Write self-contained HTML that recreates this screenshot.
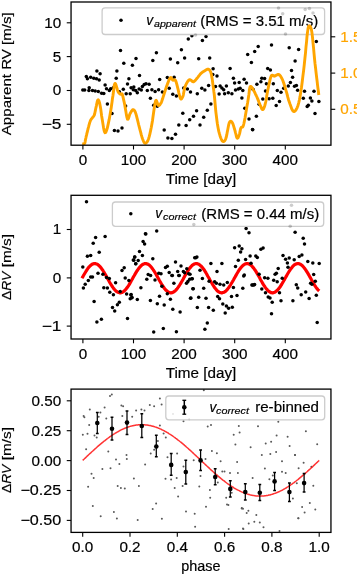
<!DOCTYPE html><html><head><meta charset="utf-8"><style>html,body{margin:0;padding:0;background:#fff;overflow:hidden}svg{display:block;will-change:transform}</style></head><body><svg width="357" height="575" viewBox="0 0 357 575" font-family='"Liberation Sans", sans-serif'>
<rect width="357" height="575" fill="#fff"/>
<clipPath id="c1"><rect x="71.05" y="2.0" width="259.9" height="143.2"/></clipPath>
<g clip-path="url(#c1)">
<g fill="#000"><circle cx="120.5" cy="50.6" r="1.75"/><circle cx="123.8" cy="63.3" r="1.75"/><circle cx="132.4" cy="65.2" r="1.75"/><circle cx="136.0" cy="58.6" r="1.75"/><circle cx="116.9" cy="71.0" r="1.75"/><circle cx="96.9" cy="71.0" r="1.75"/><circle cx="100.1" cy="73.7" r="1.75"/><circle cx="86.3" cy="76.4" r="1.75"/><circle cx="87.4" cy="78.7" r="1.75"/><circle cx="90.7" cy="77.3" r="1.75"/><circle cx="93.8" cy="78.2" r="1.75"/><circle cx="96.5" cy="78.7" r="1.75"/><circle cx="99.2" cy="79.9" r="1.75"/><circle cx="116.2" cy="78.2" r="1.75"/><circle cx="128.9" cy="78.8" r="1.75"/><circle cx="127.5" cy="84.1" r="1.75"/><circle cx="105.1" cy="85.0" r="1.75"/><circle cx="82.8" cy="90.0" r="1.75"/><circle cx="84.7" cy="90.0" r="1.75"/><circle cx="89.2" cy="87.8" r="1.75"/><circle cx="88.9" cy="90.5" r="1.75"/><circle cx="92.5" cy="90.5" r="1.75"/><circle cx="95.2" cy="91.0" r="1.75"/><circle cx="98.3" cy="91.4" r="1.75"/><circle cx="101.6" cy="93.2" r="1.75"/><circle cx="103.8" cy="93.6" r="1.75"/><circle cx="106.5" cy="88.7" r="1.75"/><circle cx="109.3" cy="90.5" r="1.75"/><circle cx="110.7" cy="88.7" r="1.75"/><circle cx="113.3" cy="87.8" r="1.75"/><circle cx="119.3" cy="91.8" r="1.75"/><circle cx="123.3" cy="89.2" r="1.75"/><circle cx="126.2" cy="93.8" r="1.75"/><circle cx="130.2" cy="93.8" r="1.75"/><circle cx="131.1" cy="87.8" r="1.75"/><circle cx="133.8" cy="86.9" r="1.75"/><circle cx="135.7" cy="90.5" r="1.75"/><circle cx="107.4" cy="104.1" r="1.75"/><circle cx="112.0" cy="113.5" r="1.75"/><circle cx="125.6" cy="106.0" r="1.75"/><circle cx="114.4" cy="130.4" r="1.75"/><circle cx="118.0" cy="131.0" r="1.75"/><circle cx="122.0" cy="127.9" r="1.75"/><circle cx="188.3" cy="39.1" r="1.75"/><circle cx="191.9" cy="35.8" r="1.75"/><circle cx="181.4" cy="49.7" r="1.75"/><circle cx="156.4" cy="52.8" r="1.75"/><circle cx="152.8" cy="60.6" r="1.75"/><circle cx="170.4" cy="59.1" r="1.75"/><circle cx="177.7" cy="62.8" r="1.75"/><circle cx="184.6" cy="57.9" r="1.75"/><circle cx="139.5" cy="75.5" r="1.75"/><circle cx="159.7" cy="79.6" r="1.75"/><circle cx="167.3" cy="77.4" r="1.75"/><circle cx="174.1" cy="77.2" r="1.75"/><circle cx="133.3" cy="89.7" r="1.75"/><circle cx="137.3" cy="92.8" r="1.75"/><circle cx="139.1" cy="89.1" r="1.75"/><circle cx="141.3" cy="90.0" r="1.75"/><circle cx="142.4" cy="86.4" r="1.75"/><circle cx="144.2" cy="84.6" r="1.75"/><circle cx="146.0" cy="83.7" r="1.75"/><circle cx="149.1" cy="84.2" r="1.75"/><circle cx="147.3" cy="90.4" r="1.75"/><circle cx="151.9" cy="89.7" r="1.75"/><circle cx="155.1" cy="91.5" r="1.75"/><circle cx="158.6" cy="89.7" r="1.75"/><circle cx="162.4" cy="91.9" r="1.75"/><circle cx="150.4" cy="98.2" r="1.75"/><circle cx="169.2" cy="88.2" r="1.75"/><circle cx="172.8" cy="94.2" r="1.75"/><circle cx="176.4" cy="96.0" r="1.75"/><circle cx="183.7" cy="87.9" r="1.75"/><circle cx="187.4" cy="89.1" r="1.75"/><circle cx="190.5" cy="91.9" r="1.75"/><circle cx="153.7" cy="105.3" r="1.75"/><circle cx="157.3" cy="106.2" r="1.75"/><circle cx="182.8" cy="113.2" r="1.75"/><circle cx="189.7" cy="119.7" r="1.75"/><circle cx="193.5" cy="116.2" r="1.75"/><circle cx="178.8" cy="125.0" r="1.75"/><circle cx="186.1" cy="125.5" r="1.75"/><circle cx="164.2" cy="130.0" r="1.75"/><circle cx="167.9" cy="137.9" r="1.75"/><circle cx="171.9" cy="138.6" r="1.75"/><circle cx="175.5" cy="134.2" r="1.75"/><circle cx="206.0" cy="36.4" r="1.75"/><circle cx="202.4" cy="40.6" r="1.75"/><circle cx="198.7" cy="58.8" r="1.75"/><circle cx="209.7" cy="57.9" r="1.75"/><circle cx="213.1" cy="68.8" r="1.75"/><circle cx="212.8" cy="74.6" r="1.75"/><circle cx="217.0" cy="75.9" r="1.75"/><circle cx="230.1" cy="68.6" r="1.75"/><circle cx="233.4" cy="78.3" r="1.75"/><circle cx="244.1" cy="79.2" r="1.75"/><circle cx="247.7" cy="54.6" r="1.75"/><circle cx="251.4" cy="62.4" r="1.75"/><circle cx="254.7" cy="51.5" r="1.75"/><circle cx="234.6" cy="83.1" r="1.75"/><circle cx="239.2" cy="82.4" r="1.75"/><circle cx="246.5" cy="83.1" r="1.75"/><circle cx="197.3" cy="93.7" r="1.75"/><circle cx="201.8" cy="88.2" r="1.75"/><circle cx="204.9" cy="90.0" r="1.75"/><circle cx="208.6" cy="85.5" r="1.75"/><circle cx="215.5" cy="86.4" r="1.75"/><circle cx="220.1" cy="86.0" r="1.75"/><circle cx="221.9" cy="87.9" r="1.75"/><circle cx="226.4" cy="86.0" r="1.75"/><circle cx="223.7" cy="89.7" r="1.75"/><circle cx="219.1" cy="94.0" r="1.75"/><circle cx="224.6" cy="93.7" r="1.75"/><circle cx="228.3" cy="92.8" r="1.75"/><circle cx="231.9" cy="93.7" r="1.75"/><circle cx="235.5" cy="90.0" r="1.75"/><circle cx="238.3" cy="89.1" r="1.75"/><circle cx="240.1" cy="88.2" r="1.75"/><circle cx="242.8" cy="90.6" r="1.75"/><circle cx="241.9" cy="97.9" r="1.75"/><circle cx="210.9" cy="104.1" r="1.75"/><circle cx="207.3" cy="110.3" r="1.75"/><circle cx="196.6" cy="110.8" r="1.75"/><circle cx="203.7" cy="117.2" r="1.75"/><circle cx="200.0" cy="125.0" r="1.75"/><circle cx="244.8" cy="108.3" r="1.75"/><circle cx="249.0" cy="118.9" r="1.75"/><circle cx="252.5" cy="129.5" r="1.75"/><circle cx="253.0" cy="89.3" r="1.75"/><circle cx="258.2" cy="46.4" r="1.75"/><circle cx="271.5" cy="44.9" r="1.75"/><circle cx="289.2" cy="47.7" r="1.75"/><circle cx="298.6" cy="49.6" r="1.75"/><circle cx="267.7" cy="68.6" r="1.75"/><circle cx="270.4" cy="70.1" r="1.75"/><circle cx="295.1" cy="61.1" r="1.75"/><circle cx="291.5" cy="70.4" r="1.75"/><circle cx="292.6" cy="77.2" r="1.75"/><circle cx="261.8" cy="78.3" r="1.75"/><circle cx="264.6" cy="78.6" r="1.75"/><circle cx="256.9" cy="84.2" r="1.75"/><circle cx="260.9" cy="81.8" r="1.75"/><circle cx="266.4" cy="83.7" r="1.75"/><circle cx="273.3" cy="83.7" r="1.75"/><circle cx="290.4" cy="82.4" r="1.75"/><circle cx="265.5" cy="90.9" r="1.75"/><circle cx="277.3" cy="90.4" r="1.75"/><circle cx="281.0" cy="92.2" r="1.75"/><circle cx="283.7" cy="88.2" r="1.75"/><circle cx="288.3" cy="86.0" r="1.75"/><circle cx="294.5" cy="86.3" r="1.75"/><circle cx="296.4" cy="85.5" r="1.75"/><circle cx="297.6" cy="90.3" r="1.75"/><circle cx="304.5" cy="91.2" r="1.75"/><circle cx="314.0" cy="91.2" r="1.75"/><circle cx="262.8" cy="99.1" r="1.75"/><circle cx="269.1" cy="98.8" r="1.75"/><circle cx="272.8" cy="98.2" r="1.75"/><circle cx="259.1" cy="104.2" r="1.75"/><circle cx="279.5" cy="101.4" r="1.75"/><circle cx="276.2" cy="105.5" r="1.75"/><circle cx="303.3" cy="98.3" r="1.75"/><circle cx="310.4" cy="98.1" r="1.75"/><circle cx="311.9" cy="101.1" r="1.75"/><circle cx="318.9" cy="101.4" r="1.75"/><circle cx="307.2" cy="106.6" r="1.75"/><circle cx="308.3" cy="105.2" r="1.75"/><circle cx="315.0" cy="113.6" r="1.75"/><circle cx="256.4" cy="116.2" r="1.75"/><circle cx="252.7" cy="129.7" r="1.75"/><circle cx="316.3" cy="41.4" r="1.75"/></g>
</g>
<rect x="102.1" y="7.9" width="222.5" height="26.6" rx="3" fill="#fff" fill-opacity="0.8" stroke="#cccccc" stroke-width="1.3"/>
<g fill="#000" fill-opacity="0.2"><circle cx="195.5" cy="35.1" r="1.75"/><circle cx="278.5" cy="8.0" r="1.75"/><circle cx="282.7" cy="13.7" r="1.75"/><circle cx="275.8" cy="24.2" r="1.75"/><circle cx="305.2" cy="9.5" r="1.75"/><circle cx="309.4" cy="8.4" r="1.75"/><circle cx="313.0" cy="13.0" r="1.75"/><circle cx="285.5" cy="34.0" r="1.75"/></g>
<circle cx="121" cy="20.3" r="1.75" fill="#000"/>
<text x="146.2" y="25.4" font-size="13.8" text-anchor="start" fill="#000" stroke="#000" stroke-width="0.18" font-style="italic">v</text>
<text x="154" y="27.4" font-size="9.8" text-anchor="start" fill="#000" stroke="#000" stroke-width="0.18" textLength="42" lengthAdjust="spacingAndGlyphs" font-style="italic">apparent</text>
<text x="200.2" y="25.6" font-size="13.8" text-anchor="start" fill="#000" stroke="#000" stroke-width="0.18" textLength="118" lengthAdjust="spacingAndGlyphs">(RMS = 3.51 m/s)</text>
<g clip-path="url(#c1)"><path d="M82.2,144.0 L82.5,144.0 L83.1,144.0 L83.6,143.9 L84.2,143.8 L84.6,143.4 L84.9,142.8 L85.1,142.0 L85.2,141.1 L85.4,140.1 L85.6,139.0 L85.9,137.8 L86.2,136.4 L86.6,134.9 L86.9,133.4 L87.3,132.0 L87.6,130.6 L88.0,129.2 L88.3,127.8 L88.7,126.4 L89.0,125.2 L89.3,124.1 L89.6,123.0 L89.9,122.1 L90.2,121.2 L90.5,120.4 L90.9,119.7 L91.3,119.1 L91.7,118.6 L92.1,118.1 L92.5,117.6 L92.9,117.1 L93.3,116.7 L93.7,116.2 L94.0,115.6 L94.4,114.8 L94.7,113.7 L95.0,112.3 L95.3,110.9 L95.6,109.3 L95.9,107.8 L96.3,106.1 L96.7,104.1 L97.1,102.2 L97.5,100.7 L97.9,99.9 L98.3,99.8 L98.7,100.3 L99.1,101.3 L99.5,102.7 L99.9,104.4 L100.3,106.6 L100.8,109.5 L101.2,112.6 L101.6,115.7 L102.1,118.7 L102.6,121.7 L103.1,124.9 L103.6,128.0 L104.1,130.5 L104.6,132.1 L105.1,132.7 L105.6,132.6 L106.0,131.9 L106.5,130.6 L107.1,128.8 L107.7,126.3 L108.4,123.1 L109.2,119.4 L109.9,115.6 L110.5,112.0 L111.1,108.6 L111.6,105.0 L112.1,101.6 L112.5,98.2 L113.0,95.2 L113.4,92.2 L113.8,89.2 L114.1,86.4 L114.5,84.4 L115.0,83.4 L115.6,83.9 L116.2,85.6 L116.9,87.9 L117.5,90.2 L118.1,91.8 L118.7,92.7 L119.2,93.3 L119.7,93.8 L120.2,94.1 L120.6,94.3 L121.0,94.3 L121.3,94.0 L121.6,93.6 L121.9,93.6 L122.3,94.3 L122.7,95.7 L123.2,97.8 L123.7,100.2 L124.3,102.7 L124.8,105.3 L125.3,108.2 L125.9,111.6 L126.4,114.9 L127.0,117.6 L127.5,119.2 L128.0,119.3 L128.5,118.4 L129.0,116.8 L129.5,115.1 L130.0,113.8 L130.6,112.7 L131.2,111.6 L131.9,110.6 L132.5,109.9 L133.1,109.6 L133.7,109.8 L134.2,110.2 L134.8,111.1 L135.3,112.2 L135.9,113.8 L136.5,115.9 L137.2,118.6 L137.9,121.5 L138.6,124.5 L139.3,127.2 L140.0,129.8 L140.7,132.4 L141.3,134.9 L142.0,137.2 L142.6,139.0 L143.2,140.5 L143.7,141.6 L144.1,142.5 L144.6,143.0 L145.2,143.2 L145.8,143.1 L146.5,142.6 L147.1,141.9 L147.8,140.7 L148.5,139.0 L149.2,136.7 L149.9,133.8 L150.6,130.6 L151.3,127.2 L151.9,123.9 L152.5,120.5 L153.0,116.8 L153.5,113.2 L154.0,109.8 L154.4,107.1 L154.8,104.9 L155.1,103.1 L155.4,101.7 L155.7,100.7 L156.1,100.3 L156.5,100.7 L156.9,101.8 L157.4,103.3 L157.8,104.7 L158.3,105.4 L158.8,105.5 L159.4,105.2 L160.0,104.6 L160.5,103.8 L161.1,102.9 L161.6,101.7 L162.1,100.3 L162.6,98.8 L163.1,97.1 L163.7,95.3 L164.3,93.4 L165.0,91.3 L165.6,89.2 L166.3,87.1 L167.0,85.2 L167.7,83.4 L168.4,81.5 L169.1,79.8 L169.8,78.4 L170.4,77.6 L171.0,77.5 L171.5,78.0 L171.9,78.9 L172.4,79.7 L172.9,80.2 L173.4,80.2 L173.9,80.0 L174.4,79.7 L174.9,79.7 L175.4,80.2 L175.9,81.3 L176.4,82.9 L176.9,84.7 L177.4,86.7 L177.9,88.6 L178.4,90.7 L178.9,93.1 L179.5,95.5 L180.0,97.5 L180.5,98.7 L181.0,99.1 L181.5,98.9 L182.0,98.2 L182.5,97.2 L183.0,96.1 L183.4,94.6 L183.7,92.8 L184.1,90.7 L184.5,88.7 L185.0,86.9 L185.7,85.2 L186.5,83.5 L187.4,81.9 L188.3,80.6 L189.2,79.8 L190.1,79.7 L190.9,80.2 L191.8,80.9 L192.6,81.6 L193.4,81.8 L194.1,81.5 L194.8,80.9 L195.4,80.2 L196.1,79.4 L196.8,78.5 L197.6,77.6 L198.4,76.5 L199.3,75.4 L200.1,74.3 L201.0,73.4 L201.9,72.6 L202.7,72.0 L203.6,71.4 L204.4,70.9 L205.2,70.4 L205.9,70.0 L206.7,69.5 L207.3,69.2 L208.0,69.1 L208.6,69.2 L209.2,69.6 L209.7,70.2 L210.2,71.0 L210.7,72.1 L211.1,73.4 L211.5,75.0 L211.8,76.9 L212.2,78.9 L212.5,81.2 L212.8,83.5 L213.1,85.9 L213.5,88.5 L213.8,91.2 L214.2,94.0 L214.5,97.0 L214.8,100.2 L215.1,103.6 L215.4,107.0 L215.7,110.5 L216.1,113.8 L216.5,117.0 L216.9,120.2 L217.3,123.3 L217.8,126.2 L218.3,128.9 L218.8,131.4 L219.4,133.7 L220.0,135.7 L220.6,137.5 L221.2,139.0 L221.7,140.1 L222.2,140.9 L222.7,141.3 L223.2,141.6 L223.7,141.5 L224.2,141.2 L224.7,140.7 L225.2,139.9 L225.7,138.8 L226.2,137.3 L226.7,135.2 L227.2,132.4 L227.8,129.5 L228.3,126.8 L228.7,124.7 L229.1,123.3 L229.4,122.4 L229.7,121.9 L230.0,121.5 L230.4,121.3 L230.8,121.2 L231.2,121.3 L231.6,121.7 L232.0,122.2 L232.5,123.0 L233.0,124.1 L233.5,125.6 L234.0,127.3 L234.5,129.0 L235.0,130.6 L235.4,132.3 L235.9,134.2 L236.3,136.0 L236.7,137.4 L237.1,138.2 L237.5,138.3 L238.0,137.8 L238.4,136.9 L238.8,135.9 L239.2,134.8 L239.6,133.6 L239.9,132.1 L240.2,130.6 L240.5,129.1 L240.9,128.0 L241.3,127.4 L241.8,127.2 L242.4,127.1 L242.9,126.6 L243.4,125.5 L243.9,123.5 L244.4,121.0 L245.0,118.1 L245.5,115.1 L246.0,112.1 L246.5,109.1 L247.0,106.0 L247.6,102.8 L248.1,99.7 L248.5,97.0 L248.9,94.4 L249.2,91.8 L249.4,89.5 L249.8,87.7 L250.2,86.6 L250.8,86.4 L251.4,86.9 L252.1,87.9 L252.8,89.1 L253.5,90.3 L254.2,91.4 L254.9,92.7 L255.5,94.1 L256.2,95.5 L256.9,97.0 L257.6,98.6 L258.3,100.4 L259.0,102.3 L259.7,104.0 L260.3,105.4 L260.9,106.7 L261.4,107.9 L261.8,108.8 L262.3,109.5 L262.8,109.6 L263.3,109.2 L263.8,108.3 L264.3,107.1 L264.8,105.5 L265.3,103.7 L265.8,101.5 L266.3,98.9 L266.7,96.1 L267.2,93.2 L267.8,90.3 L268.4,87.3 L269.1,83.9 L269.8,80.7 L270.5,77.9 L271.2,76.0 L271.9,75.1 L272.5,75.1 L273.1,75.6 L273.8,76.0 L274.5,76.2 L275.3,75.9 L276.2,75.3 L277.1,74.8 L278.0,74.5 L278.8,74.5 L279.6,75.0 L280.3,75.7 L280.9,76.7 L281.6,77.9 L282.3,79.3 L283.0,81.0 L283.7,83.0 L284.4,85.2 L285.1,87.5 L285.8,89.8 L286.5,92.2 L287.2,94.7 L287.8,97.2 L288.5,99.7 L289.3,102.0 L290.1,104.3 L291.0,106.7 L291.8,109.0 L292.7,110.6 L293.6,111.5 L294.5,111.5 L295.4,110.7 L296.3,109.4 L297.2,107.6 L298.0,105.4 L298.7,102.8 L299.4,99.8 L300.1,96.4 L300.7,92.4 L301.4,88.0 L302.1,82.8 L302.8,76.9 L303.6,70.6 L304.3,64.4 L304.9,58.5 L305.5,52.8 L306.0,46.9 L306.6,41.3 L307.0,36.3 L307.5,32.4 L307.9,29.6 L308.2,27.7 L308.6,26.6 L308.9,26.0 L309.3,25.8 L309.8,26.0 L310.3,26.6 L310.8,27.7 L311.4,29.6 L311.9,32.4 L312.4,36.4 L312.9,41.6 L313.5,47.4 L314.0,53.2 L314.5,58.5 L315.0,63.4 L315.6,68.2 L316.1,72.8 L316.6,77.1 L317.1,81.0 L317.5,84.6 L317.9,87.9 L318.3,90.8 L318.6,93.2 L318.8,95.0" fill="none" stroke="#ffa500" stroke-width="2.9" stroke-linejoin="round" stroke-linecap="butt"/></g>
<rect x="71.05" y="2.0" width="259.9" height="143.2" fill="none" stroke="#000" stroke-width="1.3"/>
<line x1="66.75" y1="22.8" x2="71.05" y2="22.8" stroke="#000" stroke-width="1.1"/>
<text x="61.3" y="27.700000000000003" font-size="13.8" text-anchor="end" fill="#000" stroke="#000" stroke-width="0.18" textLength="16.96" lengthAdjust="spacingAndGlyphs">10</text>
<line x1="66.75" y1="56.6" x2="71.05" y2="56.6" stroke="#000" stroke-width="1.1"/>
<text x="61.3" y="61.5" font-size="13.8" text-anchor="end" fill="#000" stroke="#000" stroke-width="0.18" textLength="8.48" lengthAdjust="spacingAndGlyphs">5</text>
<line x1="66.75" y1="90.5" x2="71.05" y2="90.5" stroke="#000" stroke-width="1.1"/>
<text x="61.3" y="95.4" font-size="13.8" text-anchor="end" fill="#000" stroke="#000" stroke-width="0.18" textLength="8.48" lengthAdjust="spacingAndGlyphs">0</text>
<line x1="66.75" y1="124.3" x2="71.05" y2="124.3" stroke="#000" stroke-width="1.1"/>
<text x="61.3" y="129.2" font-size="13.8" text-anchor="end" fill="#000" stroke="#000" stroke-width="0.18" textLength="19.65" lengthAdjust="spacingAndGlyphs">−5</text>
<line x1="330.95" y1="36.8" x2="335.25" y2="36.8" stroke="#000" stroke-width="1.1"/>
<text x="340.2" y="41.699999999999996" font-size="13.8" text-anchor="start" fill="#ffa500" stroke="#ffa500" stroke-width="0.18" textLength="21.19" lengthAdjust="spacingAndGlyphs">1.5</text>
<line x1="330.95" y1="73.1" x2="335.25" y2="73.1" stroke="#000" stroke-width="1.1"/>
<text x="340.2" y="78.0" font-size="13.8" text-anchor="start" fill="#ffa500" stroke="#ffa500" stroke-width="0.18" textLength="21.19" lengthAdjust="spacingAndGlyphs">1.0</text>
<line x1="330.95" y1="109.3" x2="335.25" y2="109.3" stroke="#000" stroke-width="1.1"/>
<text x="340.2" y="114.2" font-size="13.8" text-anchor="start" fill="#ffa500" stroke="#ffa500" stroke-width="0.18" textLength="21.19" lengthAdjust="spacingAndGlyphs">0.5</text>
<line x1="82.9" y1="145.2" x2="82.9" y2="149.5" stroke="#000" stroke-width="1.1"/>
<text x="82.9" y="165.0" font-size="13.8" text-anchor="middle" fill="#000" stroke="#000" stroke-width="0.18" textLength="8.48" lengthAdjust="spacingAndGlyphs">0</text>
<line x1="133.5" y1="145.2" x2="133.5" y2="149.5" stroke="#000" stroke-width="1.1"/>
<text x="133.5" y="165.0" font-size="13.8" text-anchor="middle" fill="#000" stroke="#000" stroke-width="0.18" textLength="25.43" lengthAdjust="spacingAndGlyphs">100</text>
<line x1="184.1" y1="145.2" x2="184.1" y2="149.5" stroke="#000" stroke-width="1.1"/>
<text x="184.1" y="165.0" font-size="13.8" text-anchor="middle" fill="#000" stroke="#000" stroke-width="0.18" textLength="25.43" lengthAdjust="spacingAndGlyphs">200</text>
<line x1="234.7" y1="145.2" x2="234.7" y2="149.5" stroke="#000" stroke-width="1.1"/>
<text x="234.7" y="165.0" font-size="13.8" text-anchor="middle" fill="#000" stroke="#000" stroke-width="0.18" textLength="25.43" lengthAdjust="spacingAndGlyphs">300</text>
<line x1="285.3" y1="145.2" x2="285.3" y2="149.5" stroke="#000" stroke-width="1.1"/>
<text x="285.3" y="165.0" font-size="13.8" text-anchor="middle" fill="#000" stroke="#000" stroke-width="0.18" textLength="25.43" lengthAdjust="spacingAndGlyphs">400</text>
<text x="201" y="183.5" font-size="13.8" text-anchor="middle" fill="#000" stroke="#000" stroke-width="0.18" textLength="70.5" lengthAdjust="spacingAndGlyphs">Time [day]</text>
<g transform="translate(11.2,73.7) rotate(-90)"><text x="0" y="0" font-size="13.3" text-anchor="middle" fill="#000" stroke="#000" stroke-width="0.18" textLength="123" lengthAdjust="spacingAndGlyphs">Apparent RV [m/s]</text></g>
<clipPath id="c2"><rect x="71.05" y="195.3" width="259.9" height="143.7"/></clipPath>
<g clip-path="url(#c2)">
<path d="M82.0,278.2 L82.6,277.1 L83.2,276.1 L83.8,275.0 L84.4,274.0 L85.0,273.0 L85.6,272.0 L86.2,271.0 L86.8,270.1 L87.4,269.2 L87.9,268.4 L88.5,267.6 L89.1,266.9 L89.7,266.3 L90.3,265.7 L90.9,265.2 L91.5,264.7 L92.1,264.3 L92.7,264.0 L93.3,263.8 L93.9,263.7 L94.5,263.6 L95.1,263.6 L95.7,263.7 L96.3,263.9 L96.9,264.1 L97.5,264.4 L98.1,264.8 L98.6,265.3 L99.2,265.8 L99.8,266.4 L100.4,267.1 L101.0,267.8 L101.6,268.6 L102.2,269.5 L102.8,270.3 L103.4,271.3 L104.0,272.2 L104.6,273.2 L105.2,274.2 L105.8,275.3 L106.4,276.4 L107.0,277.4 L107.6,278.5 L108.2,279.6 L108.8,280.6 L109.3,281.7 L109.9,282.7 L110.5,283.7 L111.1,284.7 L111.7,285.6 L112.3,286.5 L112.9,287.4 L113.5,288.2 L114.1,289.0 L114.7,289.7 L115.3,290.3 L115.9,290.9 L116.5,291.4 L117.1,291.8 L117.7,292.1 L118.3,292.4 L118.9,292.6 L119.5,292.8 L120.0,292.8 L120.6,292.8 L121.2,292.7 L121.8,292.5 L122.4,292.2 L123.0,291.9 L123.6,291.4 L124.2,291.0 L124.8,290.4 L125.4,289.8 L126.0,289.1 L126.6,288.3 L127.2,287.5 L127.8,286.7 L128.4,285.8 L129.0,284.9 L129.6,283.9 L130.2,282.9 L130.7,281.9 L131.3,280.8 L131.9,279.8 L132.5,278.7 L133.1,277.6 L133.7,276.5 L134.3,275.5 L134.9,274.4 L135.5,273.4 L136.1,272.4 L136.7,271.4 L137.3,270.5 L137.9,269.6 L138.5,268.8 L139.1,268.0 L139.7,267.2 L140.3,266.6 L140.9,265.9 L141.4,265.4 L142.0,264.9 L142.6,264.5 L143.2,264.2 L143.8,263.9 L144.4,263.7 L145.0,263.6 L145.6,263.6 L146.2,263.7 L146.8,263.8 L147.4,264.0 L148.0,264.3 L148.6,264.6 L149.2,265.1 L149.8,265.6 L150.4,266.2 L151.0,266.8 L151.6,267.5 L152.1,268.3 L152.7,269.1 L153.3,269.9 L153.9,270.8 L154.5,271.8 L155.1,272.8 L155.7,273.8 L156.3,274.8 L156.9,275.9 L157.5,276.9 L158.1,278.0 L158.7,279.1 L159.3,280.2 L159.9,281.2 L160.5,282.2 L161.1,283.3 L161.7,284.3 L162.3,285.2 L162.9,286.1 L163.4,287.0 L164.0,287.9 L164.6,288.6 L165.2,289.4 L165.8,290.0 L166.4,290.6 L167.0,291.1 L167.6,291.6 L168.2,292.0 L168.8,292.3 L169.4,292.5 L170.0,292.7 L170.6,292.8 L171.2,292.8 L171.8,292.7 L172.4,292.6 L173.0,292.3 L173.6,292.0 L174.1,291.6 L174.7,291.2 L175.3,290.7 L175.9,290.1 L176.5,289.4 L177.1,288.7 L177.7,287.9 L178.3,287.1 L178.9,286.2 L179.5,285.3 L180.1,284.3 L180.7,283.4 L181.3,282.3 L181.9,281.3 L182.5,280.2 L183.1,279.2 L183.7,278.1 L184.3,277.0 L184.8,276.0 L185.4,274.9 L186.0,273.9 L186.6,272.9 L187.2,271.9 L187.8,270.9 L188.4,270.0 L189.0,269.1 L189.6,268.3 L190.2,267.6 L190.8,266.9 L191.4,266.2 L192.0,265.6 L192.6,265.1 L193.2,264.7 L193.8,264.3 L194.4,264.0 L195.0,263.8 L195.5,263.7 L196.1,263.6 L196.7,263.6 L197.3,263.7 L197.9,263.9 L198.5,264.1 L199.1,264.5 L199.7,264.9 L200.3,265.4 L200.9,265.9 L201.5,266.5 L202.1,267.2 L202.7,267.9 L203.3,268.7 L203.9,269.5 L204.5,270.4 L205.1,271.4 L205.7,272.3 L206.2,273.3 L206.8,274.3 L207.4,275.4 L208.0,276.5 L208.6,277.5 L209.2,278.6 L209.8,279.7 L210.4,280.7 L211.0,281.8 L211.6,282.8 L212.2,283.8 L212.8,284.8 L213.4,285.7 L214.0,286.6 L214.6,287.5 L215.2,288.3 L215.8,289.0 L216.4,289.7 L216.9,290.4 L217.5,290.9 L218.1,291.4 L218.7,291.8 L219.3,292.2 L219.9,292.4 L220.5,292.6 L221.1,292.8 L221.7,292.8 L222.3,292.8 L222.9,292.6 L223.5,292.4 L224.1,292.2 L224.7,291.8 L225.3,291.4 L225.9,290.9 L226.5,290.3 L227.1,289.7 L227.6,289.0 L228.2,288.3 L228.8,287.5 L229.4,286.6 L230.0,285.7 L230.6,284.8 L231.2,283.8 L231.8,282.8 L232.4,281.8 L233.0,280.7 L233.6,279.7 L234.2,278.6 L234.8,277.5 L235.4,276.4 L236.0,275.4 L236.6,274.3 L237.2,273.3 L237.8,272.3 L238.3,271.3 L238.9,270.4 L239.5,269.5 L240.1,268.7 L240.7,267.9 L241.3,267.2 L241.9,266.5 L242.5,265.9 L243.1,265.3 L243.7,264.9 L244.3,264.5 L244.9,264.1 L245.5,263.9 L246.1,263.7 L246.7,263.6 L247.3,263.6 L247.9,263.7 L248.5,263.8 L249.1,264.0 L249.6,264.3 L250.2,264.7 L250.8,265.1 L251.4,265.6 L252.0,266.2 L252.6,266.9 L253.2,267.6 L253.8,268.3 L254.4,269.2 L255.0,270.0 L255.6,270.9 L256.2,271.9 L256.8,272.9 L257.4,273.9 L258.0,274.9 L258.6,276.0 L259.2,277.0 L259.8,278.1 L260.3,279.2 L260.9,280.3 L261.5,281.3 L262.1,282.3 L262.7,283.4 L263.3,284.4 L263.9,285.3 L264.5,286.2 L265.1,287.1 L265.7,287.9 L266.3,288.7 L266.9,289.4 L267.5,290.1 L268.1,290.7 L268.7,291.2 L269.3,291.6 L269.9,292.0 L270.5,292.3 L271.0,292.6 L271.6,292.7 L272.2,292.8 L272.8,292.8 L273.4,292.7 L274.0,292.5 L274.6,292.3 L275.2,292.0 L275.8,291.6 L276.4,291.1 L277.0,290.6 L277.6,290.0 L278.2,289.3 L278.8,288.6 L279.4,287.8 L280.0,287.0 L280.6,286.1 L281.2,285.2 L281.7,284.2 L282.3,283.3 L282.9,282.2 L283.5,281.2 L284.1,280.1 L284.7,279.1 L285.3,278.0 L285.9,276.9 L286.5,275.9 L287.1,274.8 L287.7,273.8 L288.3,272.8 L288.9,271.8 L289.5,270.8 L290.1,269.9 L290.7,269.1 L291.3,268.3 L291.9,267.5 L292.4,266.8 L293.0,266.2 L293.6,265.6 L294.2,265.1 L294.8,264.6 L295.4,264.3 L296.0,264.0 L296.6,263.8 L297.2,263.7 L297.8,263.6 L298.4,263.6 L299.0,263.7 L299.6,263.9 L300.2,264.2 L300.8,264.5 L301.4,264.9 L302.0,265.4 L302.6,266.0 L303.1,266.6 L303.7,267.3 L304.3,268.0 L304.9,268.8 L305.5,269.6 L306.1,270.5 L306.7,271.5 L307.3,272.4 L307.9,273.4 L308.5,274.4 L309.1,275.5 L309.7,276.6 L310.3,277.6 L310.9,278.7 L311.5,279.8 L312.1,280.8 L312.7,281.9 L313.3,282.9 L313.8,283.9 L314.4,284.9 L315.0,285.8 L315.6,286.7 L316.2,287.6 L316.8,288.4 L317.4,289.1 L318.0,289.8 L318.6,290.4 L319.2,291.0" fill="none" stroke="#ff0000" stroke-width="3.2" stroke-linejoin="round"/>
<g fill="#000"><circle cx="86.5" cy="201.7" r="1.75"/><circle cx="95.6" cy="237.4" r="1.75"/><circle cx="105.1" cy="236.5" r="1.75"/><circle cx="93.2" cy="243.2" r="1.75"/><circle cx="99.2" cy="252.3" r="1.75"/><circle cx="87.4" cy="256.3" r="1.75"/><circle cx="90.7" cy="255.4" r="1.75"/><circle cx="82.8" cy="266.9" r="1.75"/><circle cx="98.0" cy="273.3" r="1.75"/><circle cx="102.9" cy="274.2" r="1.75"/><circle cx="90.7" cy="276.9" r="1.75"/><circle cx="92.5" cy="276.9" r="1.75"/><circle cx="88.3" cy="280.6" r="1.75"/><circle cx="85.2" cy="284.3" r="1.75"/><circle cx="106.5" cy="277.5" r="1.75"/><circle cx="109.3" cy="278.5" r="1.75"/><circle cx="115.6" cy="282.7" r="1.75"/><circle cx="122.0" cy="270.5" r="1.75"/><circle cx="124.2" cy="267.8" r="1.75"/><circle cx="125.2" cy="278.0" r="1.75"/><circle cx="128.9" cy="280.6" r="1.75"/><circle cx="133.8" cy="260.2" r="1.75"/><circle cx="134.8" cy="256.9" r="1.75"/><circle cx="135.7" cy="263.8" r="1.75"/><circle cx="83.4" cy="288.1" r="1.75"/><circle cx="103.8" cy="287.8" r="1.75"/><circle cx="107.4" cy="288.1" r="1.75"/><circle cx="109.8" cy="292.3" r="1.75"/><circle cx="113.4" cy="294.7" r="1.75"/><circle cx="120.2" cy="291.4" r="1.75"/><circle cx="126.6" cy="294.1" r="1.75"/><circle cx="131.1" cy="294.5" r="1.75"/><circle cx="132.0" cy="297.4" r="1.75"/><circle cx="130.2" cy="298.7" r="1.75"/><circle cx="94.1" cy="301.4" r="1.75"/><circle cx="119.3" cy="302.3" r="1.75"/><circle cx="117.4" cy="304.7" r="1.75"/><circle cx="112.5" cy="307.4" r="1.75"/><circle cx="114.7" cy="310.9" r="1.75"/><circle cx="96.9" cy="322.0" r="1.75"/><circle cx="101.4" cy="319.3" r="1.75"/><circle cx="127.5" cy="318.4" r="1.75"/><circle cx="145.4" cy="233.7" r="1.75"/><circle cx="156.7" cy="230.9" r="1.75"/><circle cx="145.8" cy="234.1" r="1.75"/><circle cx="143.1" cy="241.4" r="1.75"/><circle cx="144.6" cy="244.1" r="1.75"/><circle cx="139.5" cy="251.4" r="1.75"/><circle cx="142.4" cy="255.6" r="1.75"/><circle cx="134.6" cy="256.9" r="1.75"/><circle cx="133.3" cy="260.0" r="1.75"/><circle cx="138.2" cy="260.5" r="1.75"/><circle cx="135.8" cy="263.8" r="1.75"/><circle cx="152.8" cy="258.7" r="1.75"/><circle cx="175.5" cy="262.0" r="1.75"/><circle cx="194.7" cy="257.8" r="1.75"/><circle cx="165.5" cy="267.4" r="1.75"/><circle cx="167.3" cy="266.3" r="1.75"/><circle cx="181.0" cy="266.0" r="1.75"/><circle cx="186.8" cy="268.7" r="1.75"/><circle cx="148.2" cy="274.5" r="1.75"/><circle cx="150.6" cy="275.6" r="1.75"/><circle cx="158.8" cy="273.3" r="1.75"/><circle cx="161.0" cy="273.8" r="1.75"/><circle cx="146.8" cy="279.2" r="1.75"/><circle cx="155.0" cy="280.0" r="1.75"/><circle cx="169.2" cy="272.4" r="1.75"/><circle cx="172.3" cy="275.6" r="1.75"/><circle cx="177.7" cy="271.4" r="1.75"/><circle cx="179.2" cy="275.5" r="1.75"/><circle cx="183.4" cy="271.4" r="1.75"/><circle cx="184.6" cy="272.7" r="1.75"/><circle cx="188.7" cy="273.8" r="1.75"/><circle cx="189.7" cy="279.3" r="1.75"/><circle cx="192.3" cy="278.7" r="1.75"/><circle cx="187.9" cy="281.6" r="1.75"/><circle cx="173.9" cy="283.2" r="1.75"/><circle cx="140.9" cy="287.8" r="1.75"/><circle cx="161.9" cy="286.3" r="1.75"/><circle cx="192.8" cy="288.7" r="1.75"/><circle cx="130.9" cy="295.0" r="1.75"/><circle cx="131.8" cy="297.8" r="1.75"/><circle cx="137.3" cy="299.6" r="1.75"/><circle cx="150.4" cy="300.5" r="1.75"/><circle cx="159.5" cy="296.3" r="1.75"/><circle cx="167.3" cy="293.8" r="1.75"/><circle cx="170.4" cy="299.2" r="1.75"/><circle cx="190.5" cy="298.3" r="1.75"/><circle cx="157.3" cy="303.8" r="1.75"/><circle cx="164.2" cy="305.0" r="1.75"/><circle cx="172.8" cy="309.2" r="1.75"/><circle cx="180.1" cy="312.0" r="1.75"/><circle cx="153.7" cy="332.0" r="1.75"/><circle cx="163.3" cy="328.4" r="1.75"/><circle cx="176.4" cy="331.8" r="1.75"/><circle cx="171.9" cy="275.5" r="1.75"/><circle cx="178.8" cy="275.5" r="1.75"/><circle cx="186.5" cy="283.2" r="1.75"/><circle cx="246.1" cy="228.6" r="1.75"/><circle cx="249.0" cy="232.7" r="1.75"/><circle cx="234.6" cy="247.8" r="1.75"/><circle cx="239.2" cy="245.9" r="1.75"/><circle cx="241.9" cy="248.7" r="1.75"/><circle cx="240.6" cy="252.0" r="1.75"/><circle cx="195.8" cy="257.8" r="1.75"/><circle cx="196.9" cy="256.9" r="1.75"/><circle cx="238.3" cy="260.2" r="1.75"/><circle cx="245.6" cy="259.6" r="1.75"/><circle cx="250.1" cy="256.0" r="1.75"/><circle cx="251.0" cy="263.3" r="1.75"/><circle cx="210.9" cy="263.6" r="1.75"/><circle cx="221.9" cy="263.6" r="1.75"/><circle cx="235.5" cy="266.5" r="1.75"/><circle cx="200.0" cy="270.2" r="1.75"/><circle cx="217.0" cy="271.4" r="1.75"/><circle cx="190.0" cy="274.2" r="1.75"/><circle cx="191.8" cy="278.7" r="1.75"/><circle cx="202.4" cy="278.5" r="1.75"/><circle cx="244.3" cy="275.1" r="1.75"/><circle cx="209.1" cy="281.3" r="1.75"/><circle cx="214.6" cy="281.8" r="1.75"/><circle cx="227.3" cy="282.4" r="1.75"/><circle cx="220.0" cy="284.3" r="1.75"/><circle cx="216.4" cy="283.2" r="1.75"/><circle cx="223.7" cy="285.0" r="1.75"/><circle cx="243.7" cy="275.9" r="1.75"/><circle cx="251.9" cy="285.0" r="1.75"/><circle cx="253.8" cy="285.0" r="1.75"/><circle cx="193.3" cy="288.7" r="1.75"/><circle cx="203.7" cy="288.3" r="1.75"/><circle cx="233.4" cy="287.4" r="1.75"/><circle cx="242.8" cy="288.3" r="1.75"/><circle cx="190.9" cy="298.1" r="1.75"/><circle cx="198.7" cy="297.2" r="1.75"/><circle cx="206.0" cy="298.3" r="1.75"/><circle cx="217.7" cy="296.5" r="1.75"/><circle cx="219.5" cy="298.7" r="1.75"/><circle cx="231.5" cy="296.5" r="1.75"/><circle cx="237.0" cy="295.6" r="1.75"/><circle cx="197.3" cy="307.4" r="1.75"/><circle cx="208.6" cy="307.4" r="1.75"/><circle cx="213.3" cy="310.2" r="1.75"/><circle cx="222.8" cy="304.1" r="1.75"/><circle cx="226.4" cy="306.0" r="1.75"/><circle cx="228.6" cy="308.3" r="1.75"/><circle cx="232.3" cy="307.2" r="1.75"/><circle cx="225.2" cy="312.9" r="1.75"/><circle cx="207.3" cy="322.9" r="1.75"/><circle cx="204.9" cy="329.3" r="1.75"/><circle cx="295.1" cy="232.3" r="1.75"/><circle cx="303.2" cy="238.3" r="1.75"/><circle cx="304.5" cy="244.1" r="1.75"/><circle cx="260.9" cy="249.2" r="1.75"/><circle cx="263.1" cy="248.1" r="1.75"/><circle cx="255.8" cy="256.0" r="1.75"/><circle cx="257.3" cy="257.4" r="1.75"/><circle cx="283.0" cy="255.4" r="1.75"/><circle cx="285.6" cy="259.3" r="1.75"/><circle cx="289.2" cy="258.1" r="1.75"/><circle cx="294.2" cy="259.7" r="1.75"/><circle cx="299.2" cy="256.4" r="1.75"/><circle cx="301.9" cy="255.1" r="1.75"/><circle cx="287.4" cy="262.9" r="1.75"/><circle cx="288.0" cy="267.2" r="1.75"/><circle cx="307.8" cy="261.4" r="1.75"/><circle cx="312.8" cy="263.0" r="1.75"/><circle cx="319.2" cy="263.6" r="1.75"/><circle cx="278.2" cy="268.4" r="1.75"/><circle cx="275.1" cy="274.2" r="1.75"/><circle cx="276.4" cy="273.3" r="1.75"/><circle cx="264.6" cy="277.8" r="1.75"/><circle cx="267.9" cy="278.2" r="1.75"/><circle cx="273.7" cy="280.2" r="1.75"/><circle cx="277.2" cy="281.7" r="1.75"/><circle cx="282.2" cy="278.3" r="1.75"/><circle cx="259.1" cy="274.2" r="1.75"/><circle cx="311.9" cy="284.2" r="1.75"/><circle cx="313.7" cy="274.6" r="1.75"/><circle cx="252.7" cy="285.0" r="1.75"/><circle cx="254.6" cy="284.5" r="1.75"/><circle cx="261.8" cy="289.0" r="1.75"/><circle cx="265.5" cy="292.7" r="1.75"/><circle cx="268.2" cy="296.9" r="1.75"/><circle cx="270.0" cy="298.1" r="1.75"/><circle cx="272.2" cy="302.3" r="1.75"/><circle cx="279.5" cy="292.7" r="1.75"/><circle cx="281.0" cy="300.7" r="1.75"/><circle cx="292.9" cy="300.7" r="1.75"/><circle cx="296.3" cy="284.8" r="1.75"/><circle cx="297.7" cy="287.9" r="1.75"/><circle cx="301.2" cy="294.7" r="1.75"/><circle cx="305.7" cy="292.0" r="1.75"/><circle cx="309.1" cy="298.6" r="1.75"/><circle cx="310.6" cy="283.3" r="1.75"/><circle cx="315.3" cy="281.3" r="1.75"/><circle cx="316.3" cy="295.3" r="1.75"/><circle cx="271.5" cy="313.8" r="1.75"/><circle cx="317.2" cy="322.4" r="1.75"/></g>
</g>
<rect x="112.4" y="202.0" width="211.3" height="24.3" rx="3" fill="#fff" fill-opacity="0.8" stroke="#cccccc" stroke-width="1.3"/>
<g fill="#000" fill-opacity="0.2"><circle cx="193.8" cy="224.6" r="1.75"/><circle cx="291.5" cy="205.3" r="1.75"/><circle cx="290.2" cy="226.3" r="1.75"/></g>
<circle cx="130.8" cy="213.8" r="1.75" fill="#000"/>
<text x="155.3" y="218.3" font-size="13.8" text-anchor="start" fill="#000" stroke="#000" stroke-width="0.18" font-style="italic">v</text>
<text x="163" y="220.0" font-size="9.8" text-anchor="start" fill="#000" stroke="#000" stroke-width="0.18" textLength="33" lengthAdjust="spacingAndGlyphs" font-style="italic">correct</text>
<text x="201.3" y="218.5" font-size="13.8" text-anchor="start" fill="#000" stroke="#000" stroke-width="0.18" textLength="118" lengthAdjust="spacingAndGlyphs">(RMS = 0.44 m/s)</text>
<rect x="71.05" y="195.3" width="259.9" height="143.7" fill="none" stroke="#000" stroke-width="1.3"/>
<line x1="66.75" y1="229.5" x2="71.05" y2="229.5" stroke="#000" stroke-width="1.1"/>
<text x="61.3" y="234.4" font-size="13.8" text-anchor="end" fill="#000" stroke="#000" stroke-width="0.18" textLength="8.48" lengthAdjust="spacingAndGlyphs">1</text>
<line x1="66.75" y1="277.9" x2="71.05" y2="277.9" stroke="#000" stroke-width="1.1"/>
<text x="61.3" y="282.79999999999995" font-size="13.8" text-anchor="end" fill="#000" stroke="#000" stroke-width="0.18" textLength="8.48" lengthAdjust="spacingAndGlyphs">0</text>
<line x1="66.75" y1="326.1" x2="71.05" y2="326.1" stroke="#000" stroke-width="1.1"/>
<text x="61.3" y="331.0" font-size="13.8" text-anchor="end" fill="#000" stroke="#000" stroke-width="0.18" textLength="19.65" lengthAdjust="spacingAndGlyphs">−1</text>
<line x1="82.9" y1="339.0" x2="82.9" y2="343.3" stroke="#000" stroke-width="1.1"/>
<text x="82.9" y="358.9" font-size="13.8" text-anchor="middle" fill="#000" stroke="#000" stroke-width="0.18" textLength="8.48" lengthAdjust="spacingAndGlyphs">0</text>
<line x1="133.5" y1="339.0" x2="133.5" y2="343.3" stroke="#000" stroke-width="1.1"/>
<text x="133.5" y="358.9" font-size="13.8" text-anchor="middle" fill="#000" stroke="#000" stroke-width="0.18" textLength="25.43" lengthAdjust="spacingAndGlyphs">100</text>
<line x1="184.1" y1="339.0" x2="184.1" y2="343.3" stroke="#000" stroke-width="1.1"/>
<text x="184.1" y="358.9" font-size="13.8" text-anchor="middle" fill="#000" stroke="#000" stroke-width="0.18" textLength="25.43" lengthAdjust="spacingAndGlyphs">200</text>
<line x1="234.7" y1="339.0" x2="234.7" y2="343.3" stroke="#000" stroke-width="1.1"/>
<text x="234.7" y="358.9" font-size="13.8" text-anchor="middle" fill="#000" stroke="#000" stroke-width="0.18" textLength="25.43" lengthAdjust="spacingAndGlyphs">300</text>
<line x1="285.3" y1="339.0" x2="285.3" y2="343.3" stroke="#000" stroke-width="1.1"/>
<text x="285.3" y="358.9" font-size="13.8" text-anchor="middle" fill="#000" stroke="#000" stroke-width="0.18" textLength="25.43" lengthAdjust="spacingAndGlyphs">400</text>
<text x="201" y="377.5" font-size="13.8" text-anchor="middle" fill="#000" stroke="#000" stroke-width="0.18" textLength="70.5" lengthAdjust="spacingAndGlyphs">Time [day]</text>
<g transform="translate(11.2,0) rotate(-90)"><text x="-299.9" y="0" font-size="13.3" text-anchor="start" fill="#000" stroke="#000" stroke-width="0.18" textLength="28.2" lengthAdjust="spacingAndGlyphs">Δ<tspan font-style="italic">RV</tspan></text><text x="-267.2" y="0" font-size="13.3" text-anchor="start" fill="#000" stroke="#000" stroke-width="0.18" textLength="33.2" lengthAdjust="spacingAndGlyphs">[m/s]</text></g>
<clipPath id="c3"><rect x="71.05" y="389.1" width="259.9" height="143.29999999999995"/></clipPath>
<g clip-path="url(#c3)">
<g fill="#5a5a5a"><circle cx="110.0" cy="396.1" r="1.0"/><circle cx="111.8" cy="394.5" r="1.0"/><circle cx="89.8" cy="409.5" r="1.0"/><circle cx="104.6" cy="407.5" r="1.0"/><circle cx="121.4" cy="405.5" r="1.0"/><circle cx="123.1" cy="406.3" r="1.0"/><circle cx="83.6" cy="415.9" r="1.0"/><circle cx="84.4" cy="417.2" r="1.0"/><circle cx="100.4" cy="412.5" r="1.0"/><circle cx="98.7" cy="416.7" r="1.0"/><circle cx="106.3" cy="418.4" r="1.0"/><circle cx="122.3" cy="415.9" r="1.0"/><circle cx="89.2" cy="425.1" r="1.0"/><circle cx="82.8" cy="434.7" r="1.0"/><circle cx="87.5" cy="433.7" r="1.0"/><circle cx="94.5" cy="435.4" r="1.0"/><circle cx="96.7" cy="437.6" r="1.0"/><circle cx="86.1" cy="449.3" r="1.0"/><circle cx="108.3" cy="451.5" r="1.0"/><circle cx="126.5" cy="454.9" r="1.0"/><circle cx="126.8" cy="458.9" r="1.0"/><circle cx="116.0" cy="459.4" r="1.0"/><circle cx="119.4" cy="464.0" r="1.0"/><circle cx="102.4" cy="469.0" r="1.0"/><circle cx="110.5" cy="468.3" r="1.0"/><circle cx="91.5" cy="473.7" r="1.0"/><circle cx="93.7" cy="477.9" r="1.0"/><circle cx="88.1" cy="486.8" r="1.0"/><circle cx="117.7" cy="485.9" r="1.0"/><circle cx="120.9" cy="488.1" r="1.0"/><circle cx="124.8" cy="488.4" r="1.0"/><circle cx="92.8" cy="506.1" r="1.0"/><circle cx="113.9" cy="512.0" r="1.0"/><circle cx="100.7" cy="516.2" r="1.0"/><circle cx="116.9" cy="518.4" r="1.0"/><circle cx="159.9" cy="398.6" r="1.0"/><circle cx="149.8" cy="405.0" r="1.0"/><circle cx="154.1" cy="406.3" r="1.0"/><circle cx="161.6" cy="404.6" r="1.0"/><circle cx="136.1" cy="410.5" r="1.0"/><circle cx="141.4" cy="409.5" r="1.0"/><circle cx="144.5" cy="410.5" r="1.0"/><circle cx="132.2" cy="416.7" r="1.0"/><circle cx="159.9" cy="425.6" r="1.0"/><circle cx="163.6" cy="433.5" r="1.0"/><circle cx="183.5" cy="421.3" r="1.0"/><circle cx="165.8" cy="437.6" r="1.0"/><circle cx="157.9" cy="440.9" r="1.0"/><circle cx="150.7" cy="453.5" r="1.0"/><circle cx="154.1" cy="449.8" r="1.0"/><circle cx="177.1" cy="453.5" r="1.0"/><circle cx="167.5" cy="457.2" r="1.0"/><circle cx="145.1" cy="464.5" r="1.0"/><circle cx="183.5" cy="466.6" r="1.0"/><circle cx="133.9" cy="478.6" r="1.0"/><circle cx="165.5" cy="478.7" r="1.0"/><circle cx="171.1" cy="479.4" r="1.0"/><circle cx="176.7" cy="478.0" r="1.0"/><circle cx="138.9" cy="485.9" r="1.0"/><circle cx="174.7" cy="488.1" r="1.0"/><circle cx="182.6" cy="485.9" r="1.0"/><circle cx="178.1" cy="496.5" r="1.0"/><circle cx="156.1" cy="503.6" r="1.0"/><circle cx="152.7" cy="509.0" r="1.0"/><circle cx="186.0" cy="511.6" r="1.0"/><circle cx="137.7" cy="520.0" r="1.0"/><circle cx="161.9" cy="518.7" r="1.0"/><circle cx="207.7" cy="426.4" r="1.0"/><circle cx="211.0" cy="425.0" r="1.0"/><circle cx="238.8" cy="425.9" r="1.0"/><circle cx="239.6" cy="432.6" r="1.0"/><circle cx="233.7" cy="434.8" r="1.0"/><circle cx="203.8" cy="390.3" r="1.0"/><circle cx="189.2" cy="419.3" r="1.0"/><circle cx="235.4" cy="444.4" r="1.0"/><circle cx="211.9" cy="451.1" r="1.0"/><circle cx="216.9" cy="453.3" r="1.0"/><circle cx="193.7" cy="460.3" r="1.0"/><circle cx="205.5" cy="459.0" r="1.0"/><circle cx="220.6" cy="461.2" r="1.0"/><circle cx="237.1" cy="462.0" r="1.0"/><circle cx="200.5" cy="475.9" r="1.0"/><circle cx="199.3" cy="486.5" r="1.0"/><circle cx="209.9" cy="489.9" r="1.0"/><circle cx="210.2" cy="497.8" r="1.0"/><circle cx="206.0" cy="506.7" r="1.0"/><circle cx="194.7" cy="513.7" r="1.0"/><circle cx="195.1" cy="526.8" r="1.0"/><circle cx="222.3" cy="471.4" r="1.0"/><circle cx="224.5" cy="471.4" r="1.0"/><circle cx="230.0" cy="473.1" r="1.0"/><circle cx="237.9" cy="473.1" r="1.0"/><circle cx="217.8" cy="482.6" r="1.0"/><circle cx="226.2" cy="497.8" r="1.0"/><circle cx="227.0" cy="504.5" r="1.0"/><circle cx="228.4" cy="505.0" r="1.0"/><circle cx="231.7" cy="492.7" r="1.0"/><circle cx="241.8" cy="507.9" r="1.0"/><circle cx="228.7" cy="528.9" r="1.0"/><circle cx="243.0" cy="528.5" r="1.0"/><circle cx="278.3" cy="421.7" r="1.0"/><circle cx="258.0" cy="426.2" r="1.0"/><circle cx="276.6" cy="435.5" r="1.0"/><circle cx="287.6" cy="436.8" r="1.0"/><circle cx="265.7" cy="443.5" r="1.0"/><circle cx="271.1" cy="441.8" r="1.0"/><circle cx="289.6" cy="446.0" r="1.0"/><circle cx="250.6" cy="447.2" r="1.0"/><circle cx="261.8" cy="455.0" r="1.0"/><circle cx="270.3" cy="454.0" r="1.0"/><circle cx="276.1" cy="451.9" r="1.0"/><circle cx="295.1" cy="455.0" r="1.0"/><circle cx="282.0" cy="461.2" r="1.0"/><circle cx="264.9" cy="468.4" r="1.0"/><circle cx="298.6" cy="468.2" r="1.0"/><circle cx="252.6" cy="478.1" r="1.0"/><circle cx="282.0" cy="471.7" r="1.0"/><circle cx="285.7" cy="473.1" r="1.0"/><circle cx="272.8" cy="475.4" r="1.0"/><circle cx="269.4" cy="479.3" r="1.0"/><circle cx="296.8" cy="483.2" r="1.0"/><circle cx="292.9" cy="498.4" r="1.0"/><circle cx="241.7" cy="508.4" r="1.0"/><circle cx="243.0" cy="508.7" r="1.0"/><circle cx="248.4" cy="510.7" r="1.0"/><circle cx="246.7" cy="512.9" r="1.0"/><circle cx="256.3" cy="515.1" r="1.0"/><circle cx="248.7" cy="523.5" r="1.0"/><circle cx="254.3" cy="521.8" r="1.0"/><circle cx="259.8" cy="522.5" r="1.0"/><circle cx="263.5" cy="527.2" r="1.0"/><circle cx="243.4" cy="528.9" r="1.0"/><circle cx="298.5" cy="518.3" r="1.0"/><circle cx="279.5" cy="530.9" r="1.0"/><circle cx="305.9" cy="431.3" r="1.0"/><circle cx="317.2" cy="444.3" r="1.0"/><circle cx="294.9" cy="455.0" r="1.0"/><circle cx="303.6" cy="462.8" r="1.0"/><circle cx="311.4" cy="466.7" r="1.0"/><circle cx="313.3" cy="485.7" r="1.0"/><circle cx="309.8" cy="503.0" r="1.0"/><circle cx="302.1" cy="507.1" r="1.0"/><circle cx="315.3" cy="509.4" r="1.0"/><circle cx="304.6" cy="512.4" r="1.0"/><circle cx="298.2" cy="518.2" r="1.0"/></g>
<path d="M82.7,460.4 L83.3,459.8 L83.9,459.3 L84.5,458.7 L85.1,458.2 L85.7,457.6 L86.3,457.0 L86.8,456.5 L87.4,455.9 L88.0,455.4 L88.6,454.8 L89.2,454.2 L89.8,453.7 L90.4,453.1 L91.0,452.6 L91.6,452.0 L92.2,451.5 L92.8,451.0 L93.4,450.4 L94.0,449.9 L94.6,449.3 L95.1,448.8 L95.7,448.3 L96.3,447.8 L96.9,447.2 L97.5,446.7 L98.1,446.2 L98.7,445.7 L99.3,445.2 L99.9,444.7 L100.5,444.2 L101.1,443.7 L101.7,443.2 L102.3,442.7 L102.9,442.2 L103.4,441.7 L104.0,441.2 L104.6,440.8 L105.2,440.3 L105.8,439.8 L106.4,439.4 L107.0,438.9 L107.6,438.5 L108.2,438.0 L108.8,437.6 L109.4,437.2 L110.0,436.7 L110.6,436.3 L111.2,435.9 L111.7,435.5 L112.3,435.1 L112.9,434.7 L113.5,434.3 L114.1,433.9 L114.7,433.6 L115.3,433.2 L115.9,432.8 L116.5,432.5 L117.1,432.1 L117.7,431.8 L118.3,431.5 L118.9,431.1 L119.4,430.8 L120.0,430.5 L120.6,430.2 L121.2,429.9 L121.8,429.6 L122.4,429.3 L123.0,429.1 L123.6,428.8 L124.2,428.5 L124.8,428.3 L125.4,428.1 L126.0,427.8 L126.6,427.6 L127.2,427.4 L127.7,427.2 L128.3,427.0 L128.9,426.8 L129.5,426.6 L130.1,426.4 L130.7,426.2 L131.3,426.1 L131.9,425.9 L132.5,425.8 L133.1,425.7 L133.7,425.5 L134.3,425.4 L134.9,425.3 L135.5,425.2 L136.0,425.1 L136.6,425.0 L137.2,425.0 L137.8,424.9 L138.4,424.8 L139.0,424.8 L139.6,424.8 L140.2,424.7 L140.8,424.7 L141.4,424.7 L142.0,424.7 L142.6,424.7 L143.2,424.7 L143.8,424.7 L144.3,424.8 L144.9,424.8 L145.5,424.9 L146.1,424.9 L146.7,425.0 L147.3,425.1 L147.9,425.2 L148.5,425.3 L149.1,425.4 L149.7,425.5 L150.3,425.6 L150.9,425.7 L151.5,425.9 L152.0,426.0 L152.6,426.2 L153.2,426.3 L153.8,426.5 L154.4,426.7 L155.0,426.9 L155.6,427.1 L156.2,427.3 L156.8,427.5 L157.4,427.7 L158.0,427.9 L158.6,428.2 L159.2,428.4 L159.8,428.7 L160.3,428.9 L160.9,429.2 L161.5,429.5 L162.1,429.8 L162.7,430.1 L163.3,430.4 L163.9,430.7 L164.5,431.0 L165.1,431.3 L165.7,431.6 L166.3,432.0 L166.9,432.3 L167.5,432.7 L168.1,433.0 L168.6,433.4 L169.2,433.8 L169.8,434.1 L170.4,434.5 L171.0,434.9 L171.6,435.3 L172.2,435.7 L172.8,436.1 L173.4,436.5 L174.0,437.0 L174.6,437.4 L175.2,437.8 L175.8,438.3 L176.4,438.7 L176.9,439.1 L177.5,439.6 L178.1,440.1 L178.7,440.5 L179.3,441.0 L179.9,441.5 L180.5,441.9 L181.1,442.4 L181.7,442.9 L182.3,443.4 L182.9,443.9 L183.5,444.4 L184.1,444.9 L184.6,445.4 L185.2,445.9 L185.8,446.4 L186.4,447.0 L187.0,447.5 L187.6,448.0 L188.2,448.5 L188.8,449.1 L189.4,449.6 L190.0,450.1 L190.6,450.7 L191.2,451.2 L191.8,451.8 L192.4,452.3 L192.9,452.9 L193.5,453.4 L194.1,454.0 L194.7,454.5 L195.3,455.1 L195.9,455.6 L196.5,456.2 L197.1,456.8 L197.7,457.3 L198.3,457.9 L198.9,458.4 L199.5,459.0 L200.1,459.6 L200.7,460.1 L201.2,460.7 L201.8,461.2 L202.4,461.8 L203.0,462.4 L203.6,462.9 L204.2,463.5 L204.8,464.0 L205.4,464.6 L206.0,465.2 L206.6,465.7 L207.2,466.3 L207.8,466.8 L208.4,467.4 L209.0,467.9 L209.5,468.5 L210.1,469.0 L210.7,469.6 L211.3,470.1 L211.9,470.7 L212.5,471.2 L213.1,471.7 L213.7,472.3 L214.3,472.8 L214.9,473.3 L215.5,473.8 L216.1,474.4 L216.7,474.9 L217.3,475.4 L217.8,475.9 L218.4,476.4 L219.0,476.9 L219.6,477.4 L220.2,477.9 L220.8,478.4 L221.4,478.9 L222.0,479.3 L222.6,479.8 L223.2,480.3 L223.8,480.7 L224.4,481.2 L225.0,481.7 L225.5,482.1 L226.1,482.5 L226.7,483.0 L227.3,483.4 L227.9,483.8 L228.5,484.3 L229.1,484.7 L229.7,485.1 L230.3,485.5 L230.9,485.9 L231.5,486.3 L232.1,486.7 L232.7,487.0 L233.3,487.4 L233.8,487.8 L234.4,488.1 L235.0,488.5 L235.6,488.8 L236.2,489.2 L236.8,489.5 L237.4,489.8 L238.0,490.1 L238.6,490.4 L239.2,490.7 L239.8,491.0 L240.4,491.3 L241.0,491.6 L241.6,491.9 L242.1,492.1 L242.7,492.4 L243.3,492.6 L243.9,492.9 L244.5,493.1 L245.1,493.3 L245.7,493.5 L246.3,493.7 L246.9,493.9 L247.5,494.1 L248.1,494.3 L248.7,494.5 L249.3,494.6 L249.9,494.8 L250.4,494.9 L251.0,495.1 L251.6,495.2 L252.2,495.3 L252.8,495.4 L253.4,495.5 L254.0,495.6 L254.6,495.7 L255.2,495.8 L255.8,495.9 L256.4,495.9 L257.0,496.0 L257.6,496.0 L258.1,496.1 L258.7,496.1 L259.3,496.1 L259.9,496.1 L260.5,496.1 L261.1,496.1 L261.7,496.1 L262.3,496.0 L262.9,496.0 L263.5,496.0 L264.1,495.9 L264.7,495.8 L265.3,495.8 L265.9,495.7 L266.4,495.6 L267.0,495.5 L267.6,495.4 L268.2,495.3 L268.8,495.1 L269.4,495.0 L270.0,494.9 L270.6,494.7 L271.2,494.6 L271.8,494.4 L272.4,494.2 L273.0,494.0 L273.6,493.8 L274.2,493.6 L274.7,493.4 L275.3,493.2 L275.9,493.0 L276.5,492.7 L277.1,492.5 L277.7,492.3 L278.3,492.0 L278.9,491.7 L279.5,491.5 L280.1,491.2 L280.7,490.9 L281.3,490.6 L281.9,490.3 L282.5,490.0 L283.0,489.7 L283.6,489.3 L284.2,489.0 L284.8,488.7 L285.4,488.3 L286.0,488.0 L286.6,487.6 L287.2,487.2 L287.8,486.9 L288.4,486.5 L289.0,486.1 L289.6,485.7 L290.2,485.3 L290.7,484.9 L291.3,484.5 L291.9,484.1 L292.5,483.6 L293.1,483.2 L293.7,482.8 L294.3,482.3 L294.9,481.9 L295.5,481.4 L296.1,481.0 L296.7,480.5 L297.3,480.0 L297.9,479.6 L298.5,479.1 L299.0,478.6 L299.6,478.1 L300.2,477.6 L300.8,477.1 L301.4,476.6 L302.0,476.1 L302.6,475.6 L303.2,475.1 L303.8,474.6 L304.4,474.1 L305.0,473.6 L305.6,473.0 L306.2,472.5 L306.8,472.0 L307.3,471.5 L307.9,470.9 L308.5,470.4 L309.1,469.8 L309.7,469.3 L310.3,468.8 L310.9,468.2 L311.5,467.7 L312.1,467.1 L312.7,466.6 L313.3,466.0 L313.9,465.4 L314.5,464.9 L315.1,464.3 L315.6,463.8 L316.2,463.2 L316.8,462.6 L317.4,462.1 L318.0,461.5 L318.6,461.0 L319.2,460.4" fill="none" stroke="#ff0000" stroke-width="1.5" stroke-opacity="0.8"/>
<line x1="97.3" y1="412.5" x2="97.3" y2="433.6" stroke="#000" stroke-width="1.25"/>
<line x1="95.89999999999999" y1="412.5" x2="98.7" y2="412.5" stroke="#000" stroke-width="1.5"/>
<line x1="95.89999999999999" y1="433.6" x2="98.7" y2="433.6" stroke="#000" stroke-width="1.5"/>
<circle cx="97.3" cy="423.0" r="2.3" fill="#000"/>
<line x1="112.0" y1="417.2" x2="112.0" y2="440.0" stroke="#000" stroke-width="1.25"/>
<line x1="110.6" y1="417.2" x2="113.4" y2="417.2" stroke="#000" stroke-width="1.5"/>
<line x1="110.6" y1="440.0" x2="113.4" y2="440.0" stroke="#000" stroke-width="1.5"/>
<circle cx="112.0" cy="428.8" r="2.3" fill="#000"/>
<line x1="127.0" y1="410.9" x2="127.0" y2="434.4" stroke="#000" stroke-width="1.25"/>
<line x1="125.6" y1="410.9" x2="128.4" y2="410.9" stroke="#000" stroke-width="1.5"/>
<line x1="125.6" y1="434.4" x2="128.4" y2="434.4" stroke="#000" stroke-width="1.5"/>
<circle cx="127.0" cy="422.6" r="2.3" fill="#000"/>
<line x1="141.8" y1="413.7" x2="141.8" y2="437.5" stroke="#000" stroke-width="1.25"/>
<line x1="140.4" y1="413.7" x2="143.20000000000002" y2="413.7" stroke="#000" stroke-width="1.5"/>
<line x1="140.4" y1="437.5" x2="143.20000000000002" y2="437.5" stroke="#000" stroke-width="1.5"/>
<circle cx="141.8" cy="426.0" r="2.3" fill="#000"/>
<line x1="156.3" y1="435.3" x2="156.3" y2="456.7" stroke="#000" stroke-width="1.25"/>
<line x1="154.9" y1="435.3" x2="157.70000000000002" y2="435.3" stroke="#000" stroke-width="1.5"/>
<line x1="154.9" y1="456.7" x2="157.70000000000002" y2="456.7" stroke="#000" stroke-width="1.5"/>
<circle cx="156.3" cy="446.5" r="2.3" fill="#000"/>
<line x1="171.2" y1="453.6" x2="171.2" y2="475.3" stroke="#000" stroke-width="1.25"/>
<line x1="169.79999999999998" y1="453.6" x2="172.6" y2="453.6" stroke="#000" stroke-width="1.5"/>
<line x1="169.79999999999998" y1="475.3" x2="172.6" y2="475.3" stroke="#000" stroke-width="1.5"/>
<circle cx="171.2" cy="464.9" r="2.3" fill="#000"/>
<line x1="185.8" y1="460.3" x2="185.8" y2="484.0" stroke="#000" stroke-width="1.25"/>
<line x1="184.4" y1="460.3" x2="187.20000000000002" y2="460.3" stroke="#000" stroke-width="1.5"/>
<line x1="184.4" y1="484.0" x2="187.20000000000002" y2="484.0" stroke="#000" stroke-width="1.5"/>
<circle cx="185.8" cy="472.1" r="2.3" fill="#000"/>
<line x1="200.6" y1="450.1" x2="200.6" y2="470.5" stroke="#000" stroke-width="1.25"/>
<line x1="199.2" y1="450.1" x2="202.0" y2="450.1" stroke="#000" stroke-width="1.5"/>
<line x1="199.2" y1="470.5" x2="202.0" y2="470.5" stroke="#000" stroke-width="1.5"/>
<circle cx="200.6" cy="460.4" r="2.3" fill="#000"/>
<line x1="215.2" y1="468.7" x2="215.2" y2="484.8" stroke="#000" stroke-width="1.25"/>
<line x1="213.79999999999998" y1="468.7" x2="216.6" y2="468.7" stroke="#000" stroke-width="1.5"/>
<line x1="213.79999999999998" y1="484.8" x2="216.6" y2="484.8" stroke="#000" stroke-width="1.5"/>
<circle cx="215.2" cy="477.0" r="2.3" fill="#000"/>
<line x1="230.3" y1="480.8" x2="230.3" y2="497.1" stroke="#000" stroke-width="1.25"/>
<line x1="228.9" y1="480.8" x2="231.70000000000002" y2="480.8" stroke="#000" stroke-width="1.5"/>
<line x1="228.9" y1="497.1" x2="231.70000000000002" y2="497.1" stroke="#000" stroke-width="1.5"/>
<circle cx="230.3" cy="488.9" r="2.3" fill="#000"/>
<line x1="245.3" y1="483.7" x2="245.3" y2="500.1" stroke="#000" stroke-width="1.25"/>
<line x1="243.9" y1="483.7" x2="246.70000000000002" y2="483.7" stroke="#000" stroke-width="1.5"/>
<line x1="243.9" y1="500.1" x2="246.70000000000002" y2="500.1" stroke="#000" stroke-width="1.5"/>
<circle cx="245.3" cy="492.0" r="2.3" fill="#000"/>
<line x1="259.8" y1="484.4" x2="259.8" y2="500.5" stroke="#000" stroke-width="1.25"/>
<line x1="258.40000000000003" y1="484.4" x2="261.2" y2="484.4" stroke="#000" stroke-width="1.5"/>
<line x1="258.40000000000003" y1="500.5" x2="261.2" y2="500.5" stroke="#000" stroke-width="1.5"/>
<circle cx="259.8" cy="492.7" r="2.3" fill="#000"/>
<line x1="274.6" y1="472.6" x2="274.6" y2="490.4" stroke="#000" stroke-width="1.25"/>
<line x1="273.20000000000005" y1="472.6" x2="276.0" y2="472.6" stroke="#000" stroke-width="1.5"/>
<line x1="273.20000000000005" y1="490.4" x2="276.0" y2="490.4" stroke="#000" stroke-width="1.5"/>
<circle cx="274.6" cy="481.4" r="2.3" fill="#000"/>
<line x1="289.4" y1="483.1" x2="289.4" y2="501.6" stroke="#000" stroke-width="1.25"/>
<line x1="288.0" y1="483.1" x2="290.79999999999995" y2="483.1" stroke="#000" stroke-width="1.5"/>
<line x1="288.0" y1="501.6" x2="290.79999999999995" y2="501.6" stroke="#000" stroke-width="1.5"/>
<circle cx="289.4" cy="492.1" r="2.3" fill="#000"/>
<line x1="304.1" y1="473.6" x2="304.1" y2="492.1" stroke="#000" stroke-width="1.25"/>
<line x1="302.70000000000005" y1="473.6" x2="305.5" y2="473.6" stroke="#000" stroke-width="1.5"/>
<line x1="302.70000000000005" y1="492.1" x2="305.5" y2="492.1" stroke="#000" stroke-width="1.5"/>
<circle cx="304.1" cy="483.1" r="2.3" fill="#000"/>
</g>
<rect x="165.8" y="396.0" width="158.9" height="23.8" rx="3" fill="#fff" fill-opacity="0.8" stroke="#cccccc" stroke-width="1.3"/>
<g fill="#6a6a6a" fill-opacity="0.2"><circle cx="173.0" cy="413.9" r="0.95"/></g>
<line x1="184.3" y1="400.3" x2="184.3" y2="414.2" stroke="#000" stroke-width="1.5"/>
<line x1="182.4" y1="400.3" x2="186.20000000000002" y2="400.3" stroke="#000" stroke-width="1.3"/>
<line x1="182.4" y1="414.2" x2="186.20000000000002" y2="414.2" stroke="#000" stroke-width="1.3"/>
<circle cx="184.3" cy="407.3" r="2.3" fill="#000"/>
<text x="209.6" y="411.7" font-size="13.8" text-anchor="start" fill="#000" stroke="#000" stroke-width="0.18" font-style="italic">v</text>
<text x="216" y="413.6" font-size="9.8" text-anchor="start" fill="#000" stroke="#000" stroke-width="0.18" textLength="33" lengthAdjust="spacingAndGlyphs" font-style="italic">correct</text>
<text x="255.2" y="411.6" font-size="13.8" text-anchor="start" fill="#000" stroke="#000" stroke-width="0.18" textLength="63.8" lengthAdjust="spacingAndGlyphs">re-binned</text>
<rect x="71.05" y="389.1" width="259.9" height="143.29999999999995" fill="none" stroke="#000" stroke-width="1.3"/>
<line x1="66.75" y1="400.8" x2="71.05" y2="400.8" stroke="#000" stroke-width="1.1"/>
<text x="61.3" y="405.7" font-size="13.8" text-anchor="end" fill="#000" stroke="#000" stroke-width="0.18" textLength="29.67" lengthAdjust="spacingAndGlyphs">0.50</text>
<line x1="66.75" y1="430.7" x2="71.05" y2="430.7" stroke="#000" stroke-width="1.1"/>
<text x="61.3" y="435.59999999999997" font-size="13.8" text-anchor="end" fill="#000" stroke="#000" stroke-width="0.18" textLength="29.67" lengthAdjust="spacingAndGlyphs">0.25</text>
<line x1="66.75" y1="460.6" x2="71.05" y2="460.6" stroke="#000" stroke-width="1.1"/>
<text x="61.3" y="465.5" font-size="13.8" text-anchor="end" fill="#000" stroke="#000" stroke-width="0.18" textLength="29.67" lengthAdjust="spacingAndGlyphs">0.00</text>
<line x1="66.75" y1="490.5" x2="71.05" y2="490.5" stroke="#000" stroke-width="1.1"/>
<text x="61.3" y="495.4" font-size="13.8" text-anchor="end" fill="#000" stroke="#000" stroke-width="0.18" textLength="40.84" lengthAdjust="spacingAndGlyphs">−0.25</text>
<line x1="66.75" y1="520.4" x2="71.05" y2="520.4" stroke="#000" stroke-width="1.1"/>
<text x="61.3" y="525.3" font-size="13.8" text-anchor="end" fill="#000" stroke="#000" stroke-width="0.18" textLength="40.84" lengthAdjust="spacingAndGlyphs">−0.50</text>
<line x1="82.7" y1="532.4" x2="82.7" y2="536.6999999999999" stroke="#000" stroke-width="1.1"/>
<text x="82.7" y="552.1999999999999" font-size="13.8" text-anchor="middle" fill="#000" stroke="#000" stroke-width="0.18" textLength="21.19" lengthAdjust="spacingAndGlyphs">0.0</text>
<line x1="130.0" y1="532.4" x2="130.0" y2="536.6999999999999" stroke="#000" stroke-width="1.1"/>
<text x="130.0" y="552.1999999999999" font-size="13.8" text-anchor="middle" fill="#000" stroke="#000" stroke-width="0.18" textLength="21.19" lengthAdjust="spacingAndGlyphs">0.2</text>
<line x1="177.3" y1="532.4" x2="177.3" y2="536.6999999999999" stroke="#000" stroke-width="1.1"/>
<text x="177.3" y="552.1999999999999" font-size="13.8" text-anchor="middle" fill="#000" stroke="#000" stroke-width="0.18" textLength="21.19" lengthAdjust="spacingAndGlyphs">0.4</text>
<line x1="224.6" y1="532.4" x2="224.6" y2="536.6999999999999" stroke="#000" stroke-width="1.1"/>
<text x="224.6" y="552.1999999999999" font-size="13.8" text-anchor="middle" fill="#000" stroke="#000" stroke-width="0.18" textLength="21.19" lengthAdjust="spacingAndGlyphs">0.6</text>
<line x1="271.9" y1="532.4" x2="271.9" y2="536.6999999999999" stroke="#000" stroke-width="1.1"/>
<text x="271.9" y="552.1999999999999" font-size="13.8" text-anchor="middle" fill="#000" stroke="#000" stroke-width="0.18" textLength="21.19" lengthAdjust="spacingAndGlyphs">0.8</text>
<line x1="319.2" y1="532.4" x2="319.2" y2="536.6999999999999" stroke="#000" stroke-width="1.1"/>
<text x="319.2" y="552.1999999999999" font-size="13.8" text-anchor="middle" fill="#000" stroke="#000" stroke-width="0.18" textLength="21.19" lengthAdjust="spacingAndGlyphs">1.0</text>
<text x="200.9" y="571.4" font-size="13.8" text-anchor="middle" fill="#000" stroke="#000" stroke-width="0.18" textLength="39.2" lengthAdjust="spacingAndGlyphs">phase</text>
<g transform="translate(11.2,0) rotate(-90)"><text x="-492.9" y="0" font-size="13.3" text-anchor="start" fill="#000" stroke="#000" stroke-width="0.18" textLength="28.2" lengthAdjust="spacingAndGlyphs">Δ<tspan font-style="italic">RV</tspan></text><text x="-460.2" y="0" font-size="13.3" text-anchor="start" fill="#000" stroke="#000" stroke-width="0.18" textLength="33.2" lengthAdjust="spacingAndGlyphs">[m/s]</text></g>
</svg></body></html>
